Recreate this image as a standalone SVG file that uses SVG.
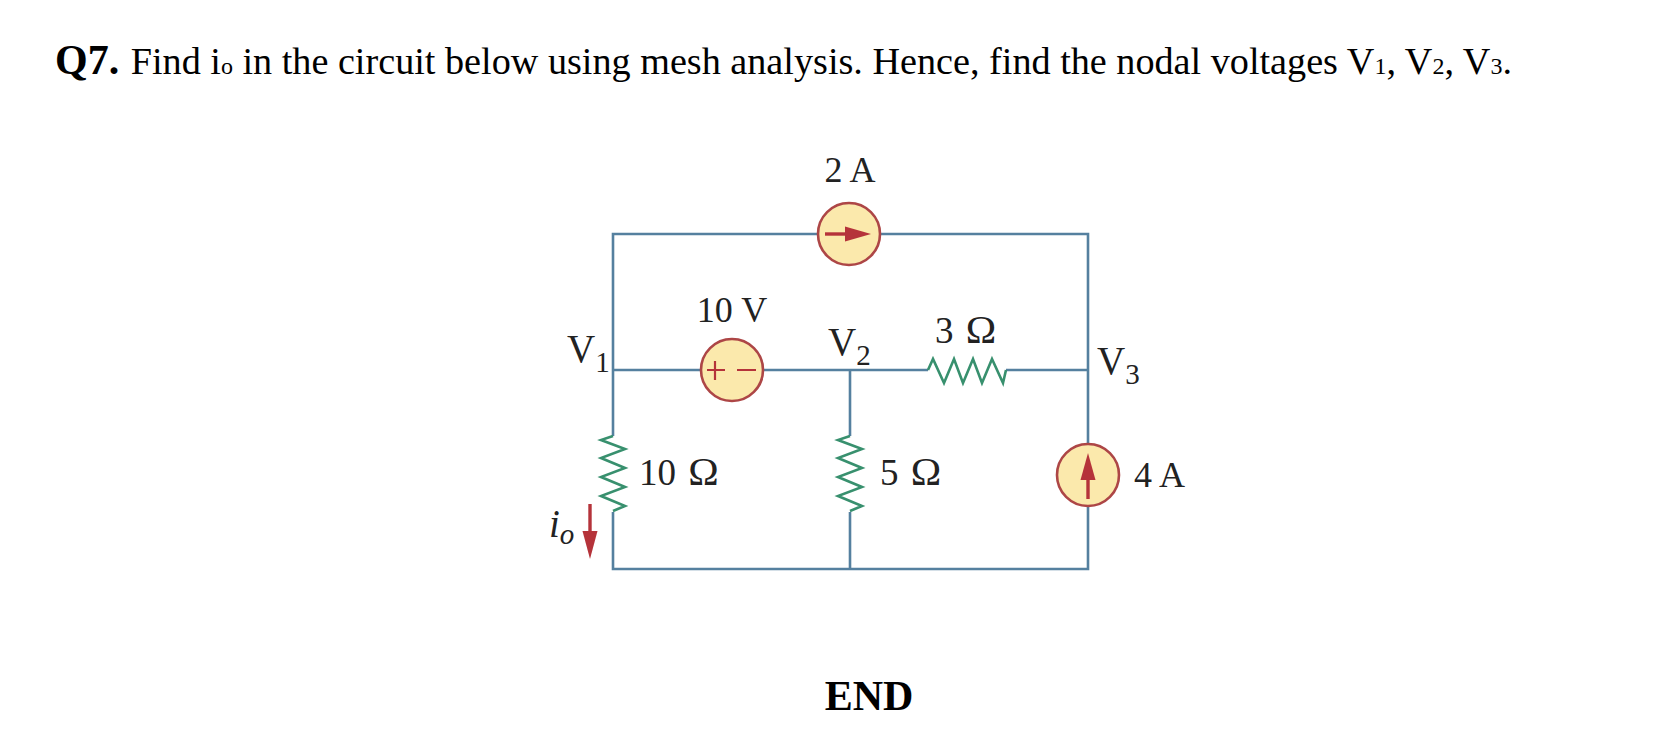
<svg xmlns="http://www.w3.org/2000/svg" width="1660" height="752" viewBox="0 0 1660 752">
<style>
text{font-family:"Liberation Serif","Times New Roman",serif;fill:#000}
.q{font-size:38.2px}
.b{font-size:42px;font-weight:bold}
.l{font-size:36px;fill:#222}
.o{font-size:37px;fill:#222;word-spacing:3px}
.m{font-size:41px}
.n{font-size:39px;fill:#222}
.s{font-size:29px;fill:#222}
.w{fill:none;stroke:#55809f;stroke-width:2.6}
.r{fill:none;stroke:#38906e;stroke-width:2.6}
.c{fill:#fbe9ac;stroke:#ad4646;stroke-width:2.6}
.a{fill:none;stroke:#b5333a;stroke-width:3.4}
.t{fill:none;stroke:#b5333a;stroke-width:2.2}
.h{fill:#b5333a}
</style>
<rect width="1660" height="752" fill="#fff"/>
<g id="question"><text class="q" x="55" y="74"><tspan class="b">Q7.</tspan><tspan dx="2"> Find i</tspan><tspan font-size="24px">o</tspan> in the circuit below using mesh analysis. Hence, find the nodal voltages V<tspan font-size="24px">1</tspan>, V<tspan font-size="24px">2</tspan>, V<tspan font-size="24px">3</tspan>.</text></g>
<g id="connectors">
<path class="w" d="M818 234H613V436M613 512V569H1088V506M1088 444V234H880M613 370H701M763 370H928M1006 370H1088M850 370V436M850 512V569"/>
<path class="r" d="M613 436L601 440L625 449L601 458L625 468L601 477L625 487L601 496L625 506L613 511"/>
<path class="r" d="M850 436L838 440L862 449L838 458L862 468L838 477L862 487L838 496L862 506L850 511"/>
<path class="r" d="M928 370L933 359L944 383L954 359L963 383L973 359L982 383L992 359L1003 383L1006 370"/>
</g>
<g id="source-2a"><circle class="c" cx="849" cy="234" r="31"/><path class="a" d="M825 234H850"/><path class="h" d="M845 226.500L871 234L845 241.500Z"/><text class="l" x="850" y="182" text-anchor="middle">2 A</text></g>
<g id="source-10v"><circle class="c" cx="732" cy="370" r="31"/><path class="t" d="M707 370H725M715 361V380M737 370H756"/><text class="l" x="732" y="322" text-anchor="middle">10 V</text></g>
<g id="source-4a"><circle class="c" cx="1088" cy="475" r="31"/><path class="a" d="M1088 499V475"/><path class="h" d="M1080.500 480L1088 453L1095.500 480Z"/><text class="l" x="1134" y="487">4 A</text></g>
<g id="resistor-10"><text class="o" x="639" y="485">10 <tspan class="m">Ω</tspan></text></g>
<g id="resistor-5"><text class="o" x="880" y="485">5 <tspan class="m">Ω</tspan></text></g>
<g id="resistor-3"><text class="o" x="935" y="343">3 <tspan class="m">Ω</tspan></text></g>
<g id="node-v1"><text class="n" x="567" y="362">V<tspan class="s" dy="10">1</tspan></text></g>
<g id="node-v2"><text class="n" x="828" y="355">V<tspan class="s" dy="10">2</tspan></text></g>
<g id="node-v3"><text class="n" x="1097" y="374">V<tspan class="s" dy="10">3</tspan></text></g>
<g id="current-io"><text class="n" x="549" y="537" font-style="italic">i<tspan class="s" dy="7" font-style="italic">o</tspan></text><path class="a" d="M590 504V535"/><path class="h" d="M582.500 531H597.500L590 559Z"/></g>
<g id="end"><text class="b" x="869" y="710" text-anchor="middle">END</text></g>
</svg>
